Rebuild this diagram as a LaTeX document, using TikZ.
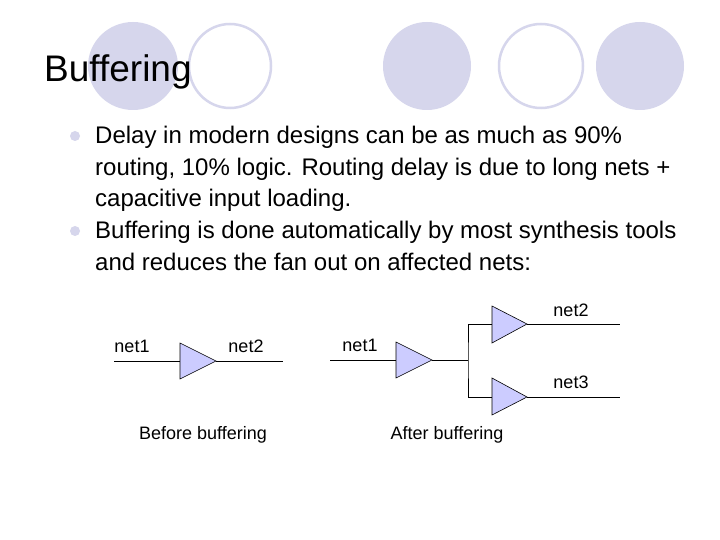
\documentclass[tikz,border=0pt]{standalone}
\usepackage{fontspec}
\setmainfont{Liberation Sans}
\definecolor{lav}{RGB}{214,214,236}
\definecolor{tri}{RGB}{204,204,255}
\begin{document}
\begin{tikzpicture}[x=1pt,y=-1pt,
  fc/.style={fill=lav,draw=none},
  oc/.style={draw=lav,line width=2.5pt},
  body/.style={anchor=base west,font=\fontsize{24}{28}\selectfont,inner sep=0},
  bul/.style={circle,fill=lav,inner sep=0,minimum size=10pt},
  lbl/.style={font=\fontsize{18}{21}\selectfont,inner sep=0},
  buf/.style={draw=black,fill=tri,line width=0.6pt},
  wire/.style={line width=0.8pt}]
\useasboundingbox (0,0) rectangle (720,540);
\fill[white] (0,0) rectangle (720,540);
\fill[fc] (133,66) ellipse (45 and 44);
\draw[oc] (230,66) ellipse (41 and 42);
\fill[fc] (427,66) ellipse (44 and 44);
\draw[oc] (541,66) ellipse (42 and 42);
\fill[fc] (640,66) ellipse (44 and 44);
\node[anchor=base west,font=\fontsize{37}{44}\selectfont,inner sep=0] (title) at (44,82) {Buffering};
\node[bul] (b1) at (75,136) {};
\node[bul] (b2) at (75,231) {};
\node[body] (l1) at (95,144) {Delay in modern designs can be as much as 90\%};
\node[body] (l2) at (95,176) {routing, 10\% logic. Routing delay is due to long nets +};
\node[body] (l3) at (95,207) {capacitive input loading.};
\node[body] (l4) at (95,239) {Buffering is done automatically by most synthesis tools};
\node[body] (l5) at (95,270) {and reduces the fan out on affected nets:};
% before
\coordinate (a0) at (114,361);
\draw[buf] (180,343) -- (180,379) -- (216,361) -- cycle;
\coordinate (ai) at (180,361); \coordinate (ao) at (216,361);
\coordinate (a1) at (283,361);
\draw[wire] (a0) -- (ai); \draw[wire] (ao) -- (a1);
\node[lbl] (n1) at (132,346) {net1};
\node[lbl] (n2) at (246,346) {net2};
\node[lbl] (cb) at (203,435) {Before buffering};
% after
\coordinate (c0) at (330,360);
\draw[buf] (396,342) -- (396,378) -- (432,360) -- cycle;
\coordinate (ci) at (396,360); \coordinate (co) at (432,360);
\coordinate (j) at (468,360);
\draw[buf] (492,306) -- (492,343) -- (527,324) -- cycle;
\draw[buf] (492,378) -- (492,415) -- (527,397) -- cycle;
\coordinate (ti) at (492,324); \coordinate (to) at (527,324);
\coordinate (bi) at (492,397); \coordinate (bo) at (527,397);
\coordinate (te) at (620,324); \coordinate (be) at (620,397);
\draw[wire] (c0) -- (ci); \draw[wire] (co) -- (j);
\draw[wire] (ti) -| (j) |- (bi);
\draw[wire] (to) -- (te); \draw[wire] (bo) -- (be);
\node[lbl] (m1) at (360,345) {net1};
\node[lbl] (m2) at (571,310) {net2};
\node[lbl] (m3) at (571,382) {net3};
\node[lbl] (ca) at (447,435) {After buffering};
\end{tikzpicture}
\end{document}
